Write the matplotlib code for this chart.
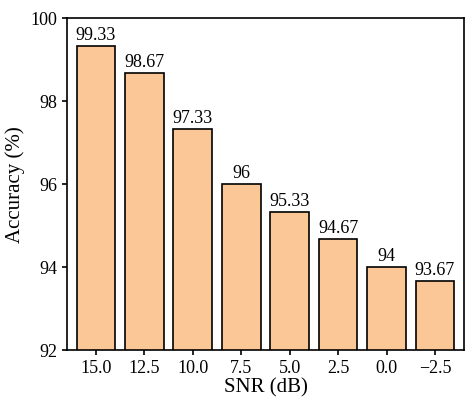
import matplotlib
matplotlib.use("Agg")
import matplotlib.pyplot as plt

snr = ["15.0", "12.5", "10.0", "7.5", "5.0", "2.5", "0.0", "\u22122.5"]
acc = [99.33, 98.67, 97.33, 96, 95.33, 94.67, 94, 93.67]
labels = ["99.33", "98.67", "97.33", "96", "95.33", "94.67", "94", "93.67"]

plt.rcParams['font.family'] = ['Liberation Serif', 'DejaVu Serif']
fig = plt.figure(figsize=(4.74, 4.12), dpi=100)
ax = fig.add_axes([0.141, 0.150, 0.838, 0.806])
x = range(len(snr))
ax.bar(x, acc, width=0.8, color="#FCC797", edgecolor="black", linewidth=1.2)
for i, (v, t) in enumerate(zip(acc, labels)):
    ax.text(i, v + 0.05, t, ha="center", va="bottom", fontsize=13)
ax.set_ylim(92, 100)
ax.set_xlim(-0.6, 7.6)
ax.set_yticks([92, 94, 96, 98, 100])
ax.set_xticks(list(x))
ax.set_xticklabels(snr)
ax.tick_params(labelsize=13, width=1.2)
for s in ax.spines.values():
    s.set_linewidth(1.2)
ax.set_xlabel("SNR (dB)", fontsize=15, labelpad=1)
ax.set_ylabel("Accuracy (%)", fontsize=15)
fig.savefig("out.png", dpi=100)
